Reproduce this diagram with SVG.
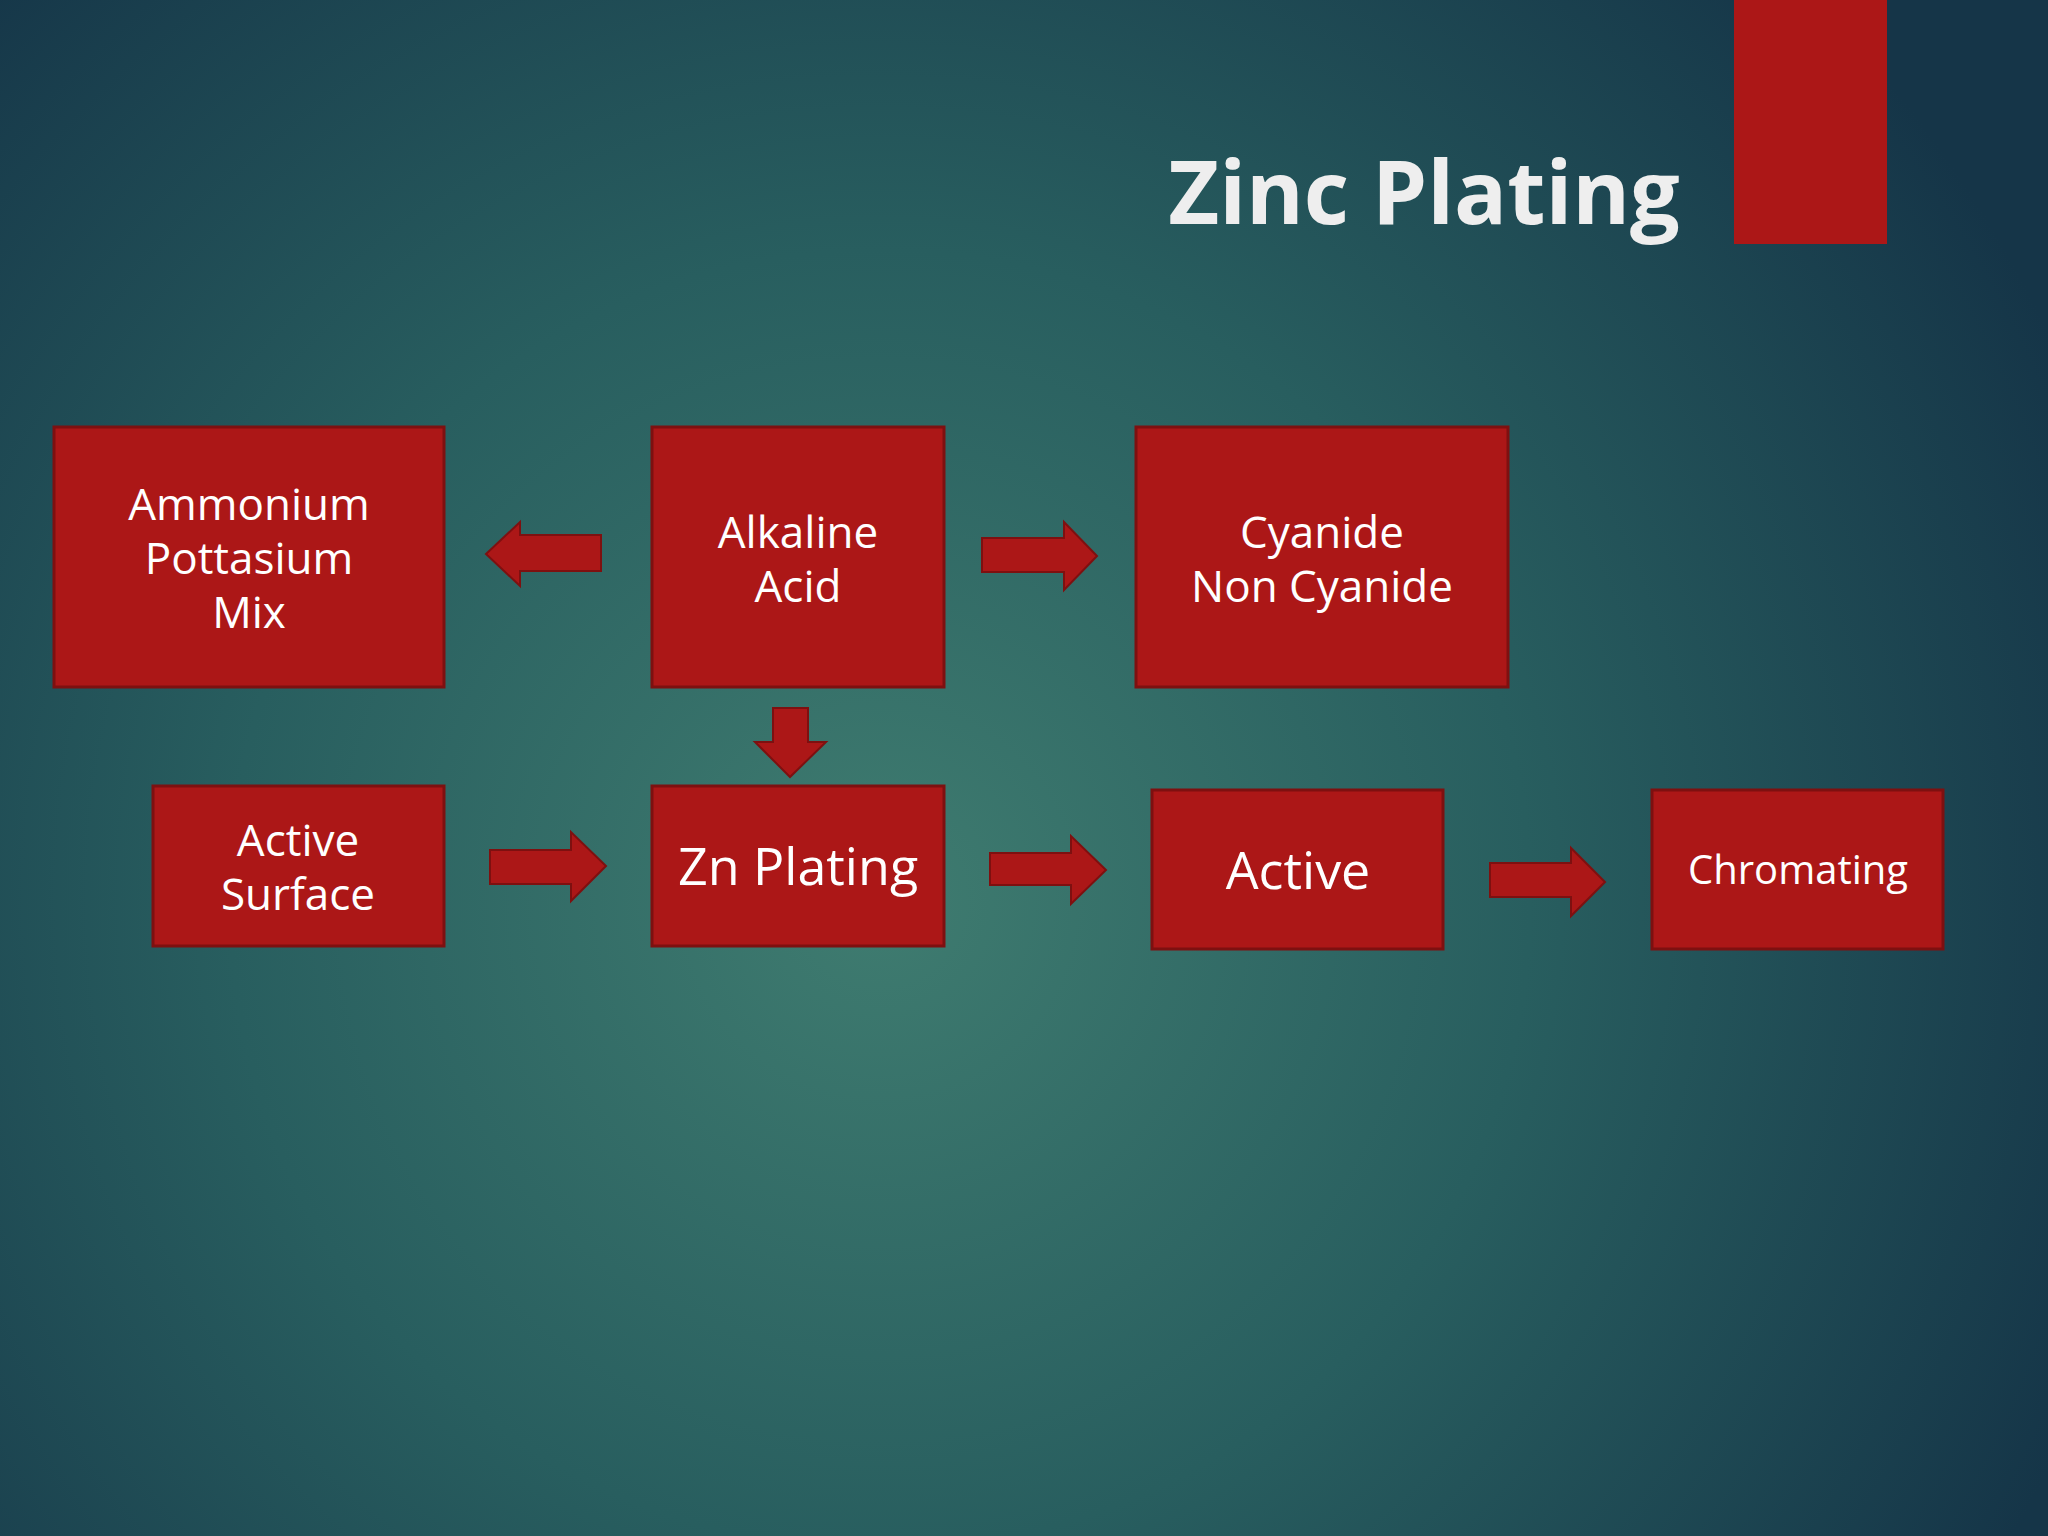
<svg xmlns="http://www.w3.org/2000/svg" width="2048" height="1536" viewBox="0 0 2048 1536">
<defs>
<radialGradient id="bg" cx="880" cy="900" r="1300" gradientUnits="userSpaceOnUse">
<stop offset="0" stop-color="#3f7c70"/>
<stop offset="0.5" stop-color="#285e5f"/>
<stop offset="1" stop-color="#153548"/>
</radialGradient>
</defs>
<style>
.b{fill:#ac1717;stroke:#7e1010;stroke-width:3}
.a{fill:#ac1717;stroke:#7e1010;stroke-width:2}
.t{font-family:"Open Sans","DejaVu Sans",sans-serif;fill:#fff;text-anchor:middle}
</style>
<rect width="2048" height="1536" fill="url(#bg)"/>
<rect x="1734" y="0" width="153" height="244" fill="#ac1717"/>
<text x="1424" y="224" font-family="'Open Sans','DejaVu Sans',sans-serif" font-weight="bold" font-size="88" fill="#eeeeee" text-anchor="middle">Zinc Plating</text>
<g id="ammonium"><rect class="b" x="54" y="427" width="390" height="260"/><text class="t" font-size="44" x="249" y="520">Ammonium</text><text class="t" font-size="44" x="249" y="574">Pottasium</text><text class="t" font-size="44" x="249" y="628">Mix</text></g>
<g id="alkaline"><rect class="b" x="652" y="427" width="292" height="260"/><text class="t" font-size="44" x="798" y="548">Alkaline</text><text class="t" font-size="44" x="798" y="602">Acid</text></g>
<g id="cyanide"><rect class="b" x="1136" y="427" width="372" height="260"/><text class="t" font-size="44" x="1322" y="548">Cyanide</text><text class="t" font-size="44" x="1322" y="602">Non Cyanide</text></g>
<g id="activesurface"><rect class="b" x="153" y="786" width="291" height="160"/><text class="t" font-size="44" x="298" y="856">Active</text><text class="t" font-size="44" x="298" y="910">Surface</text></g>
<g id="zn"><rect class="b" x="652" y="786" width="292" height="160"/><text class="t" font-size="52" x="798" y="885">Zn Plating</text></g>
<g id="active"><rect class="b" x="1152" y="790" width="291" height="159"/><text class="t" font-size="52" x="1298" y="889">Active</text></g>
<g id="chromating"><rect class="b" x="1652" y="790" width="291" height="159"/><text class="t" font-size="40" x="1798" y="884">Chromating</text></g>
<g id="connectors">
<polygon class="a" points="601,535 520,535 520,522 486,554 520,586 520,571 601,571"/>
<polygon class="a" points="982,538 1064,538 1064,522 1097,556 1064,590 1064,572 982,572"/>
<polygon class="a" points="773,708 808,708 808,742 826,742 790,777 755,742 773,742"/>
<polygon class="a" points="490,850 571,850 571,832 606,866 571,901 571,884 490,884"/>
<polygon class="a" points="990,853 1071,853 1071,836 1106,870 1071,904 1071,885 990,885"/>
<polygon class="a" points="1490,863 1571,863 1571,848 1605,882 1571,916 1571,897 1490,897"/>
</g>
</svg>
